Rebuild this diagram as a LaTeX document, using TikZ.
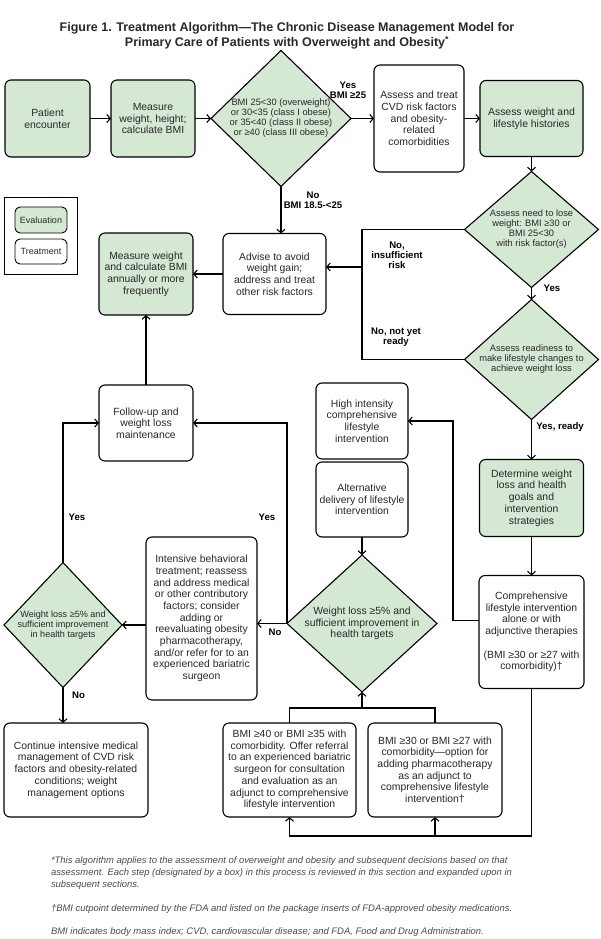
\documentclass[tikz,border=0pt]{standalone}
\usepackage{fontspec}
\setmainfont{Liberation Sans}
\usepackage{tikz}
\usetikzlibrary{positioning}
\usetikzlibrary{shapes.geometric,arrows.meta}
\usepackage{xcolor}
\definecolor{evalgreen}{RGB}{213,232,212}
\definecolor{txtgray}{RGB}{40,40,40}
\definecolor{notegray}{RGB}{75,75,75}

\begin{document}
\begin{tikzpicture}[x=1pt, y=-1pt, line width=1.1pt, >={Straight Barb[length=3.5pt,width=8pt]},
	every node/.style={inner sep=0,outer sep=0},
	evalbox/.style={draw, rectangle, rounded corners=6pt, fill=evalgreen, align=center, text=txtgray, font=\fontsize{10.4}{11.7}\selectfont},
	treatbox/.style={evalbox, fill=white},
	decision/.style={draw, diamond, aspect=1, inner sep=-6pt, fill=evalgreen, align=center, text=txtgray, font=\fontsize{9.3}{10}\selectfont},
	lbl/.style={align=center, font=\fontsize{9.6}{10}\selectfont\bfseries},
	note/.style={align=left, anchor=west, text=notegray, font=\fontsize{9.45}{12}\selectfont\itshape},
	node distance=16pt]

		\useasboundingbox (0,0) rectangle (600,939);

		%Title
		\node[align=center, text=txtgray, font=\fontsize{12.5}{15.5}\selectfont\bfseries] (title) at (287,36) {Figure 1. Treatment Algorithm—The Chronic Disease Management Model for\\Primary Care of Patients with Overweight and Obesity\textsuperscript{*}};

		%Nodes
		\node[evalbox, minimum width=85pt, minimum height=77pt] (11) at (47.5,118.5) {Patient\\encounter};
		\node[evalbox, minimum width=84pt, minimum height=77pt] (12) [right=21pt of 11] {Measure\\weight, height;\\calculate BMI};
		\node[decision, minimum width=140pt, minimum height=136pt] (13) [right=16pt of 12] {BMI 25<30 (overweight)\\or 30<35 (class I obese)\\or 35<40 (class II obese)\\or ≥40 (class III obese)};
		\node[treatbox, minimum width=90pt, minimum height=107pt] (14) [right=23pt of 13] {Assess and treat\\CVD risk factors\\and obesity-\\related\\comorbidities};
		\node[evalbox, minimum width=103pt, minimum height=76pt] (15) [right=16pt of 14] {Assess weight and\\lifestyle histories};
		\node[decision, minimum width=134pt, minimum height=116pt] (16) [below=15pt of 15] {Assess need to lose\\weight: BMI ≥30 or\\BMI 25<30\\with risk factor(s)};
		\node[decision, minimum width=134pt, minimum height=120pt] (17) [below=12pt of 16] {Assess readiness to\\make lifestyle changes to\\achieve weight loss};
		\node[evalbox, minimum width=104pt, minimum height=77pt] (18) [below=40pt of 17] {Determine weight\\loss and health\\goals and\\intervention\\strategies};
		\node[treatbox, minimum width=105pt, minimum height=113pt] (19) [below=39pt of 18] {Comprehensive\\lifestyle intervention\\alone or with\\adjunctive therapies\\[11.7pt](BMI ≥30 or ≥27 with\\comorbidity)†};

		\node[draw, line width=0.9pt, minimum width=73pt, minimum height=77pt] (21) at (40.5,235.5) {};
		\node[evalbox, line width=0.9pt, rounded corners=5pt, minimum width=52pt, minimum height=26pt, font=\fontsize{9}{10}\selectfont] (21a) at (41,220) {Evaluation};
		\node[treatbox, line width=0.9pt, rounded corners=5pt, minimum width=52pt, minimum height=25pt, font=\fontsize{9}{10}\selectfont] (21b) at (41,251.5) {Treatment};

		\node[evalbox, minimum width=94pt, minimum height=82pt] (22) at (146,274) {Measure weight\\and calculate BMI\\annually or more\\frequently};
		\node[treatbox, minimum width=103pt, minimum height=81pt] (23) [right=30pt of 22] {Advise to avoid\\weight gain;\\address and treat\\other risk factors};
		\node[treatbox, minimum width=94pt, minimum height=76pt] (31) [below=70pt of 22] {Follow-up and\\weight loss\\maintenance};
		\node[treatbox, minimum width=92pt, minimum height=76pt] (32) at (362,421) {High intensity\\comprehensive\\lifestyle\\intervention};
		\node[treatbox, minimum width=92pt, minimum height=75pt] (33) [below=3pt of 32] {Alternative\\delivery of lifestyle\\intervention};
		\node[decision, minimum width=150pt, minimum height=137pt, font=\fontsize{10.4}{11.8}\selectfont] (34) [below=18pt of 33] {Weight loss ≥5\% and\\sufficient improvement in\\health targets};
		\node[treatbox, minimum width=111pt, minimum height=163pt] (35) at (201.5,618.5) {Intensive behavioral\\treatment; reassess\\and address medical\\or other contributory\\factors; consider\\adding or\\reevaluating obesity\\pharmacotherapy,\\and/or refer for to an\\experienced bariatric\\surgeon};
		\node[decision, minimum width=118pt, minimum height=125pt, font=\fontsize{9.1}{10}\selectfont] (36) at (63,625) {Weight loss ≥5\% and\\sufficient improvement\\in health targets};
		\node[treatbox, minimum width=144pt, minimum height=94pt] (41) at (76,770) {Continue intensive medical\\management of CVD risk\\factors and obesity-related\\conditions; weight\\management options};
		\node[treatbox, minimum width=133pt, minimum height=94pt] (42) at (289.5,770) {BMI ≥40 or BMI ≥35 with\\comorbidity. Offer referral\\to an experienced bariatric\\surgeon for consultation\\and evaluation as an\\adjunct to comprehensive\\lifestyle intervention};
		\node[treatbox, minimum width=134pt, minimum height=94pt] (43) [right=12pt of 42] {BMI ≥30 or BMI ≥27 with\\comorbidity—option for\\adding pharmacotherapy\\as an adjunct to\\comprehensive lifestyle\\intervention†};

		%Labels
		\node[lbl] (l13a) at (348,90.5) {Yes\\BMI ≥25};
		\node[lbl] (l13b) at (313,200) {No\\BMI 18.5-<25};
		\node[lbl] (l16a) at (397,255) {No,\\insufficient\\risk};
		\node[lbl] (l16b) at (396,337) {No, not yet\\ready};
		\node[lbl] (l16c) at (552,288) {Yes};
		\node[lbl] (l17) at (560,427) {Yes, ready};
		\node[lbl] (l34a) at (275,632) {No};
		\node[lbl] (l34b) at (267,517) {Yes};
		\node[lbl] (l36a) at (77,517) {Yes};
		\node[lbl] (l36b) at (78.5,695) {No};

		%Notes
		\node[note, anchor=north west] (n1) at (51,857) {*This algorithm applies to the assessment of overweight and obesity and subsequent decisions based on that\\assessment. Each step (designated by a box) in this process is reviewed in this section and expanded upon in\\subsequent sections.};
		\node[note] (n2) at (51,909) {†BMI cutpoint determined by the FDA and listed on the package inserts of FDA-approved obesity medications.};
		\node[note] (n3) at (51,932) {BMI indicates body mass index; CVD, cardiovascular disease; and FDA, Food and Drug Administration.};

		%Lines
		\coordinate (16a) at (362,267);
		\coordinate (34a) at (362,708);
		\coordinate (19a) at (289.5,836);
		\draw[->] (11) -- (12);
		\draw[->] (12) -- (13);
		\draw[->] (13) -- (14);
		\draw[->] (14) -- (15);
		\draw[->] (15) -- (16);
		\draw[->] (16) -- (17);
		\draw[->] (17) -- (18);
		\draw[->] (18) -- (19);
		\draw[->] (13.south) -- (13.south |- 23.north);
		\draw (16.west) -| (16a) |- (17.west);
		\draw[->] (16a) -- (16a -| 23.east);
		\draw[->] (23) -- (22);
		\draw[->] (31) -- (22);
		\draw[->] ([yshift=11.5pt]19.west) -- ++(-26pt,0) |- (32.east);
		\draw[->] (33) -- (34);
		\draw[->] (34.west) -- (34.west -| 35.east);
		\draw[->] (34.west) |- (31.east);
		\draw[->] (35.west |- 36.east) -- (36.east);
		\draw[->] (36.north) |- (31.west);
		\draw[->] (36.south) -- (36.south |- 41.north);
		\draw (42.north) |- (34a) -| (43.north);
		\draw[->] (34a) -- (34.south);
		\draw[->] (19.south) |- (19a) -- (42.south);
		\draw[->] (19a -| 43.south) -- (43.south);
	\end{tikzpicture}
\end{document}
